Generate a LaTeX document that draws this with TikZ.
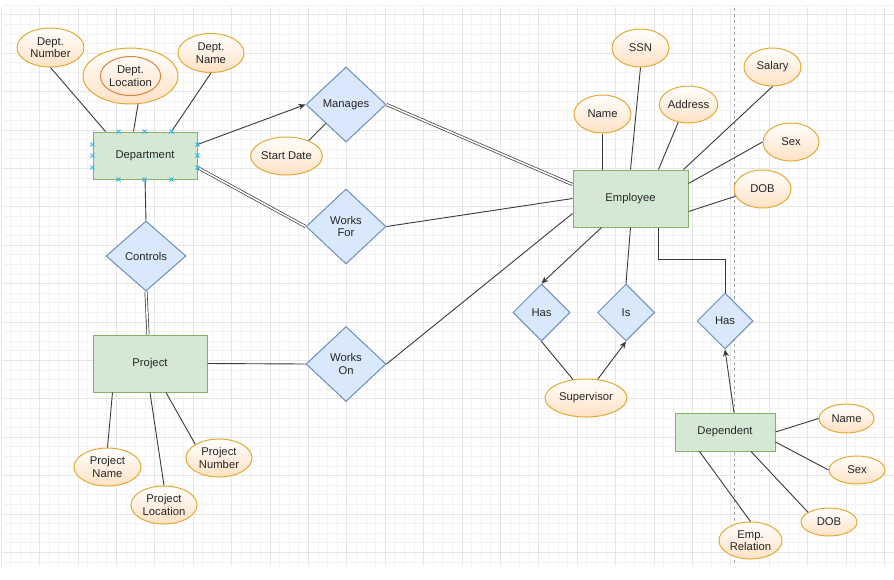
\documentclass[tikz,border=0pt]{standalone}
\usepackage{fontspec}
\setmainfont{Liberation Sans}
\usetikzlibrary{shapes.geometric,arrows.meta,calc}
\definecolor{entfill}{HTML}{D5E8D4}
\definecolor{entline}{HTML}{82B366}
\definecolor{relfill}{HTML}{DAE8FC}
\definecolor{relline}{HTML}{6C8EBF}
\definecolor{attline}{HTML}{E3AA33}
\definecolor{attbot}{HTML}{FFE1C4}
\definecolor{locline}{HTML}{D9823B}
\definecolor{conn}{HTML}{3A3A3A}
\definecolor{handle}{HTML}{29B6F2}
\begin{document}
\begin{tikzpicture}[x=1pt,y=-1pt,
  font=\fontsize{11.25}{12.5}\selectfont,
  every node/.style={text=black!85, align=center, inner sep=0pt},
  sz/.style n args={2}{minimum width=#1pt, minimum height=#2pt},
  entity/.style={rectangle, draw=entline, fill=entfill, line width=1pt},
  rel/.style={diamond, draw=relline, fill=relfill, line width=1pt},
  attr/.style={ellipse, draw=attline, top color=white, bottom color=attbot, line width=1pt},
  link/.style={draw=conn, line width=0.9pt},
  dbl/.style={draw=conn, line width=0.7pt, double=white, double distance=1.6pt},
  arr/.style={link, -{Stealth[length=7pt,width=6pt]}},
  gridminor/.style={draw=black!5, line width=0.5pt},
  gridmajor/.style={draw=black!10, line width=0.6pt},
  hmark/.style={draw=handle, line width=0.8pt}]
\useasboundingbox (0,0) rectangle (894,579);
\fill[white] (0,0) rectangle (894,579);
% grid
\foreach \i in {0,...,93} \draw[gridminor] ({1+9.6*\i},7) -- ({1+9.6*\i},566);
\foreach \j in {-1,...,57} \draw[gridminor] (3,{14.7+9.6*\j}) -- (894,{14.7+9.6*\j});
\foreach \i in {0,...,23} \draw[gridmajor] ({1+38.4*\i},7) -- ({1+38.4*\i},566);
\foreach \j in {0,...,14} \draw[gridmajor] (3,{14.7+38.4*\j}) -- (894,{14.7+38.4*\j});
% page break line
\draw[black!35, dashed, line width=0.7pt] (734.5,8) -- (734.5,566);

% entities
\node[entity, sz={104}{47}] (dept) at (145,155.5) {Department};
\node[entity, sz={115}{57}] (emp) at (630.5,198.5) {Employee};
\node[entity, sz={114}{57}] (proj) at (150,363.5) {Project};
\node[entity, sz={100}{38}] (dep) at (725,432) {Dependent};

% relationships
\node[rel, sz={80}{75}] (manages) at (346,104.5) {Manages};
\node[rel, sz={80}{75}] (worksfor) at (346,226.5) {Works\\For};
\node[rel, sz={80}{70}] (controls) at (146,256) {Controls};
\node[rel, sz={80}{75}] (workson) at (346,364) {Works\\On};
\node[rel, sz={57}{57}] (has1) at (541.5,312.5) {Has};
\node[rel, sz={57}{57}] (is) at (626,312.5) {Is};
\node[rel, sz={56}{56}] (has2) at (725,321) {Has};

% attributes
\node[attr, sz={67}{39}] (dnum) at (50.5,47.5) {Dept.\\Number};
\node[attr, sz={95}{56}] (dloc) at (130.5,76) {};
\node[ellipse, draw=locline, line width=1pt, sz={57}{39}] (dlocin) at (dloc) {Dept.\\Location};
\node[attr, sz={66}{39}] (dname) at (211,53) {Dept.\\Name};
\node[attr, sz={67}{38}] (start) at (286.5,156) {Start Date};
\node[attr, sz={57}{38}] (ssn) at (640.5,48) {SSN};
\node[attr, sz={57}{38}] (ename) at (602.5,114) {Name};
\node[attr, sz={57}{37}] (addr) at (688.5,104.5) {Address};
\node[attr, sz={57}{38}] (salary) at (772.5,67) {Salary};
\node[attr, sz={56}{38}] (esex) at (791,142) {Sex};
\node[attr, sz={57}{38}] (edob) at (762.5,189) {DOB};
\node[attr, sz={67}{38}] (pname) at (107.5,467) {Project\\Name};
\node[attr, sz={66}{38}] (ploc) at (164,505) {Project\\Location};
\node[attr, sz={66}{38}] (pnum) at (219,458) {Project\\Number};
\node[attr, sz={82}{38}] (super) at (586,398) {Supervisor};
\node[attr, sz={55}{29}] (dname2) at (846.5,418.5) {Name};
\node[attr, sz={56}{28}] (dsex) at (857,470) {Sex};
\node[attr, sz={56}{28}] (ddob) at (829,522) {DOB};
\node[attr, sz={63}{37}] (rel) at (750.5,540.5) {Emp.\\Relation};

% department attributes
\draw[link] (dnum.south) -- ($(dept.north west)+(13,0)$);
\draw[link] (dloc.-75) -- ($(dept.north west)+(41,0)$);
\draw[link] (dname.south) -- ($(dept.north west)+(79,0)$);

% relationships department
\draw[arr] ($(dept.north east)+(0,13)$) -- (manages.west);
\draw[link] (start.35) -- ($(manages.west)!0.5!(manages.south)$);
\draw[dbl] (manages.east) -- ($(emp.north west)+(0,15)$);
\draw[dbl] ($(dept.north east)+(0,36)$) -- (worksfor.west);
\draw[link] (worksfor.east) -- (emp.west);
\draw[link] (dept.south) -- (controls.north);
\draw[dbl] (controls.south) -- ($(proj.north)+(-2,0)$);
\draw[link] (proj.east) -- (workson.west);
\draw[link] (workson.east) -- ($(emp.south west)+(0,-14)$);

% employee attributes
\draw[link] (ename.south) -- ($(emp.north west)+(30,0)$);
\draw[link] (ssn.south) -- (emp.north);
\draw[link] (addr.-120) -- ($(emp.north west)+(86,0)$);
\draw[link] (salary.south) -- ($(emp.north east)+(-5,0)$);
\draw[link] (esex.west) -- ($(emp.north east)+(0,14)$);
\draw[link] (edob.195) -- ($(emp.north east)+(0,42)$);

% supervisor / dependent
\draw[arr] ($(emp.south west)+(29,0)$) -- (has1.north);
\draw[link] (emp.south) -- (is.north);
\draw[link] (has1.south) -- (super.125);
\draw[arr] (super.58) -- (is.south);
\draw[link] ($(emp.south west)+(86,0)$) |- ($(has2.north)+(0,-33)$) -- (has2.north);
\draw[arr] ($(dep.north)+(9,0)$) -- (has2.south);
\draw[link] (dep.east) -- (dname2.west);
\draw[link] ($(dep.east)+(0,10)$) -- (dsex.west);
\draw[link] ($(dep.south)+(26,0)$) -- (ddob.155);
\draw[link] ($(dep.south west)+(25,0)$) -- (rel.north);

% project attributes
\draw[link] (pname.north) -- ($(proj.south west)+(20,0)$);
\draw[link] (ploc.north) -- (proj.south);
\draw[link] (pnum.150) -- ($(proj.south)+(16,0)$);

% selection handles on Department
\foreach \d in {26,52,79} {
  \draw[hmark] ($(dept.north west)+(\d,0)$) +(-2,-2) -- +(2,2) +(-2,2) -- +(2,-2);
  \draw[hmark] ($(dept.south west)+(\d,0)$) +(-2,-2) -- +(2,2) +(-2,2) -- +(2,-2);
}
\foreach \d in {13,24,36} {
  \draw[hmark] ($(dept.north west)+(0,\d)$) +(-2,-2) -- +(2,2) +(-2,2) -- +(2,-2);
  \draw[hmark] ($(dept.north east)+(0,\d)$) +(-2,-2) -- +(2,2) +(-2,2) -- +(2,-2);
}
\end{tikzpicture}
\end{document}
